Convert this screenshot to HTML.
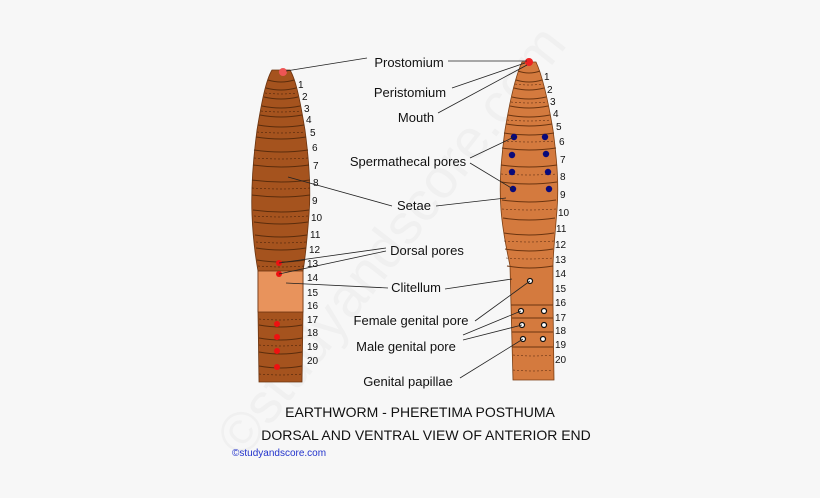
<!DOCTYPE html>
<html><head><meta charset="utf-8"><style>
html,body{margin:0;padding:0;background:#f7f7f7}
svg{display:block}
text{font-family:"Liberation Sans",Arial,sans-serif;fill:#111}
</style></head><body>
<svg width="820" height="498" viewBox="0 0 820 498" xmlns="http://www.w3.org/2000/svg">
<rect width="820" height="498" fill="#f7f7f7"/>
<text x="390" y="260" font-size="56" text-anchor="middle" style="fill:#f0f0f0" transform="rotate(-52 390 240)">©studyandscore.com</text>

<!-- Left worm -->
<path d="M272,70 L290,70 C296,80 300,100 305,130 C309,160 311,190 309,215 C307,240 305,260 303,271 L303,312 L302,382 L259,382 L258,312 L258,271 C256,260 253,240 252,215 C251,190 253,160 257,130 C262,100 266,80 272,70 Z" fill="#a5531e" stroke="#6b3410" stroke-width="0.8"/>
<rect x="258" y="271" width="45" height="41" fill="#e8935c" stroke="#6b3410" stroke-width="0.8"/>
<g fill="none" stroke="#5a2c0c" stroke-width="1">
<path d="M268,80 Q281,84 294,80"/><path d="M266,88 Q281,92 296,88"/><path d="M264,97 Q281,101 298,97"/><path d="M262,106 Q281,110 300,106"/><path d="M260,115 Q281,119 302,115"/><path d="M258,125 Q281,129 304,125"/><path d="M256,137 Q281,141 306,137"/><path d="M254,150 Q281,154 308,150"/><path d="M253,165 Q281,169 309,165"/><path d="M252,180 Q281,184 310,180"/><path d="M252,195 Q281,199 310,195"/><path d="M253,210 Q281,214 309,210"/><path d="M254,222 Q281,226 308,222"/><path d="M255,235 Q281,239 307,235"/><path d="M256,248 Q281,252 306,248"/><path d="M257,260 Q281,264 305,260"/>
<path d="M259,325 Q281,329 302,325"/><path d="M259,338 Q281,342 302,338"/><path d="M259,352 Q281,356 302,352"/><path d="M259,366 Q281,370 302,366"/>
</g>
<g fill="none" stroke="#3a1a05" stroke-width="0.5" stroke-dasharray="2,2">
<path d="M265,93 Q281,95 297,93"/><path d="M261,111 Q281,113 301,111"/><path d="M257,132 Q281,134 305,132"/><path d="M254,158 Q281,160 308,158"/><path d="M252,188 Q281,190 310,188"/><path d="M254,216 Q281,218 308,216"/><path d="M256,242 Q281,244 306,242"/><path d="M258,266 Q281,268 304,266"/>
<path d="M259,319 Q281,321 302,319"/><path d="M259,345 Q281,347 302,345"/><path d="M259,374 Q281,376 302,374"/>
</g>
<g fill="#ee1111"><circle cx="279" cy="263" r="3"/><circle cx="279" cy="274" r="3"/><circle cx="277" cy="324" r="3"/><circle cx="277" cy="337" r="3"/><circle cx="277" cy="351" r="3"/><circle cx="277" cy="367" r="3"/></g>
<circle cx="283" cy="72" r="4" fill="#ee5555"/>

<!-- Right worm -->
<path d="M522,62 L536,62 C542,75 548,100 553,130 C557,160 559,185 557,210 C555,235 553,255 553,266 L553,305 L554,380 L513,380 L511,305 L510,266 C508,255 503,235 501,210 C499,185 501,160 505,130 C510,100 516,75 522,62 Z" fill="#d47a3e" stroke="#7a3d12" stroke-width="0.8"/>
<g fill="none" stroke="#6a3410" stroke-width="1">
<path d="M518,71 Q529,75 540,71"/><path d="M516,80 Q529,84 542,80"/><path d="M514,88 Q529,92 544,88"/><path d="M512,97 Q529,101 546,97"/><path d="M510,106 Q529,110 548,106"/><path d="M508,115 Q529,119 550,115"/><path d="M506,124 Q529,128 552,124"/><path d="M504,133 Q529,137 554,133"/><path d="M502,148 Q529,152 556,148"/><path d="M501,165 Q529,169 557,165"/><path d="M501,182 Q529,186 557,182"/><path d="M502,200 Q529,204 556,200"/><path d="M503,218 Q529,222 555,218"/><path d="M504,233 Q529,237 554,233"/><path d="M505,249 Q529,253 553,249"/><path d="M507,266 Q529,270 553,266"/>
<path d="M511,305 L553,305"/><path d="M512,318 L553,318"/><path d="M512,332 L553,332"/><path d="M512,347 L553,347"/>
</g>
<g fill="none" stroke="#4a200a" stroke-width="0.5" stroke-dasharray="2,2">
<path d="M515,84 Q529,86 543,84"/><path d="M511,102 Q529,104 547,102"/><path d="M507,120 Q529,122 551,120"/><path d="M503,141 Q529,143 555,141"/><path d="M501,174 Q529,176 557,174"/><path d="M502,209 Q529,211 556,209"/><path d="M504,241 Q529,243 554,241"/><path d="M506,258 Q529,260 553,258"/>
<path d="M513,355 Q533,357 553,355"/><path d="M513,370 Q533,372 553,370"/>
</g>
<g fill="#0a0a7a"><circle cx="514" cy="137" r="3.2"/><circle cx="545" cy="137" r="3.2"/><circle cx="512" cy="155" r="3.2"/><circle cx="546" cy="154" r="3.2"/><circle cx="512" cy="172" r="3.2"/><circle cx="548" cy="172" r="3.2"/><circle cx="513" cy="189" r="3.2"/><circle cx="549" cy="189" r="3.2"/></g>
<g fill="#fff" stroke="#111" stroke-width="1.2"><circle cx="530" cy="281" r="2.5"/><circle cx="521" cy="311" r="2.5"/><circle cx="544" cy="311" r="2.5"/><circle cx="522" cy="325" r="2.5"/><circle cx="544" cy="325" r="2.5"/><circle cx="523" cy="339" r="2.5"/><circle cx="543" cy="339" r="2.5"/></g>
<circle cx="529" cy="62" r="4" fill="#ee2222"/>

<!-- Leader lines -->
<g stroke="#222" stroke-width="0.8" fill="none">
<path d="M286,71 L367,58"/><path d="M448,61 L527,61"/>
<path d="M452,88 L525,63"/><path d="M438,113 L527,65"/>
<path d="M470,158 L514,137"/><path d="M470,163 L513,189"/>
<path d="M288,177 L392,206"/><path d="M436,206 L506,198"/>
<path d="M279,263 L386,248"/><path d="M279,274 L386,251"/>
<path d="M286,283 L388,288"/><path d="M445,289 L512,279"/>
<path d="M475,321 L530,281"/>
<path d="M463,335 L521,311"/><path d="M463,340 L522,325"/>
<path d="M460,378 L523,339"/>
</g>

<!-- Labels -->
<g font-size="13" text-anchor="middle">
<text x="409" y="67">Prostomium</text>
<text x="410" y="97">Peristomium</text>
<text x="416" y="122">Mouth</text>
<text x="408" y="166">Spermathecal pores</text>
<text x="414" y="210">Setae</text>
<text x="427" y="255">Dorsal pores</text>
<text x="416" y="292">Clitellum</text>
<text x="411" y="325">Female genital pore</text>
<text x="406" y="351">Male genital pore</text>
<text x="408" y="386">Genital papillae</text>
</g>
<g font-size="14" text-anchor="middle">
<text x="420" y="417">EARTHWORM - PHERETIMA POSTHUMA</text>
<text x="426" y="440">DORSAL AND VENTRAL VIEW OF ANTERIOR END</text>
</g>
<text x="232" y="456" font-size="10" style="fill:#2233cc">©studyandscore.com</text>

<!-- Numbers left -->
<g font-size="10">
<text x="298" y="88">1</text><text x="302" y="100">2</text><text x="304" y="112">3</text><text x="306" y="123">4</text><text x="310" y="136">5</text><text x="312" y="151">6</text><text x="313" y="169">7</text><text x="313" y="186">8</text><text x="312" y="204">9</text><text x="311" y="221">10</text><text x="310" y="238">11</text><text x="309" y="253">12</text><text x="307" y="267">13</text><text x="307" y="281">14</text><text x="307" y="296">15</text><text x="307" y="309">16</text><text x="307" y="323">17</text><text x="307" y="336">18</text><text x="307" y="350">19</text><text x="307" y="364">20</text>
</g>
<!-- Numbers right -->
<g font-size="10">
<text x="544" y="80">1</text><text x="547" y="93">2</text><text x="550" y="105">3</text><text x="553" y="117">4</text><text x="556" y="130">5</text><text x="559" y="145">6</text><text x="560" y="163">7</text><text x="560" y="180">8</text><text x="560" y="198">9</text><text x="558" y="216">10</text><text x="556" y="232">11</text><text x="555" y="248">12</text><text x="555" y="263">13</text><text x="555" y="277">14</text><text x="555" y="292">15</text><text x="555" y="306">16</text><text x="555" y="321">17</text><text x="555" y="334">18</text><text x="555" y="348">19</text><text x="555" y="363">20</text>
</g>
</svg>
</body></html>
